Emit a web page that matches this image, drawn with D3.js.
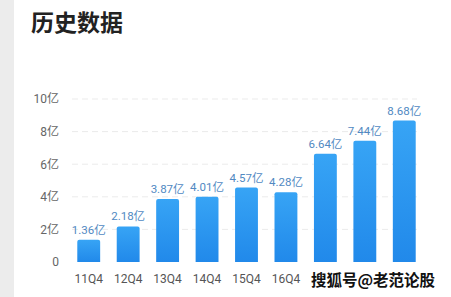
<!DOCTYPE html>
<html>
<head>
<meta charset="utf-8">
<script src="https://cdn.jsdelivr.net/npm/d3@7"></script>
<style>
  html, body { margin: 0; padding: 0; background: #fff; }
  svg { display: block; font-family: "Noto Sans CJK SC", "Noto Sans", sans-serif; }
</style>
</head>
<body>
<div id="chart"></div>
<script>
// data (unit: 亿)
var quarters = ["11Q4", "12Q4", "13Q4", "14Q4", "15Q4", "16Q4", "17Q4", "18Q4", "19Q4"];
var values = [1.36, 2.18, 3.87, 4.01, 4.57, 4.28, 6.64, 7.44, 8.68];
var shownQuarters = ["11Q4", "12Q4", "13Q4", "14Q4", "15Q4", "16Q4"];
var yTicks = [0, 2, 4, 6, 8, 10];

var W = 451, H = 297;
var margin = {top: 99, right: 27, bottom: 35, left: 69};
var width = W - margin.left - margin.right,
    height = H - margin.top - margin.bottom;

var svg = d3.select("#chart").append("svg")
    .attr("width", W)
    .attr("height", H);

// grey strip on the left
svg.append("rect").attr("x", 0).attr("y", 0).attr("width", 14).attr("height", H).attr("fill", "#ececec");

// title
svg.append("text")
    .attr("x", 31).attr("y", 31)
    .attr("font-size", 23).attr("font-weight", "bold").attr("fill", "#222")
    .text("历史数据");

var defs = svg.append("defs");
var grad = defs.append("linearGradient").attr("id", "barGrad")
    .attr("x1", 0).attr("y1", 0).attr("x2", 0).attr("y2", 1);
grad.append("stop").attr("offset", "0%").attr("stop-color", "#37a4f5");
grad.append("stop").attr("offset", "100%").attr("stop-color", "#2189ea");

var g = svg.append("g").attr("transform", "translate(" + margin.left + "," + margin.top + ")");

var x = d3.scaleBand().domain(quarters).range([0, width]).paddingInner(0.42).paddingOuter(0.21);
var y = d3.scaleLinear().domain([0, 10]).range([height, 0]);

// grid lines
g.append("g").selectAll("line")
  .data(yTicks.filter(function(d) { return d > 0; }))
  .join("line")
    .attr("x1", 3).attr("x2", width - 7)
    .attr("y1", function(d) { return y(d); })
    .attr("y2", function(d) { return y(d); })
    .attr("stroke", "#ebebeb")
    .attr("stroke-dasharray", "6,4");

// y axis
var yAxis = g.append("g")
    .call(d3.axisLeft(y).tickValues(yTicks).tickSize(0).tickPadding(10)
      .tickFormat(function(d) { return d === 0 ? "0" : d + "亿"; }));
yAxis.select(".domain").remove();
yAxis.selectAll("text").attr("font-size", 12).attr("fill", "#666")
    .attr("font-family", "Roboto, 'Noto Sans CJK SC', sans-serif");

// x axis
var xAxis = g.append("g")
    .attr("transform", "translate(0," + height + ")")
    .call(d3.axisBottom(x).tickSize(0).tickPadding(12)
      .tickFormat(function(d) { return shownQuarters.indexOf(d) >= 0 ? d : ""; }));
xAxis.select(".domain").remove();
xAxis.selectAll("text").attr("font-size", 12).attr("fill", "#555")
    .attr("font-family", "Roboto, sans-serif");

// bars with rounded top corners
var r = 2;
g.append("g").selectAll("path")
  .data(values)
  .join("path")
    .attr("fill", "url(#barGrad)")
    .attr("d", function(d, i) {
      var x0 = x(quarters[i]), w = x.bandwidth(), y0 = y(d), yb = y(0);
      return "M" + x0 + "," + yb +
        "V" + (y0 + r) +
        "Q" + x0 + "," + y0 + " " + (x0 + r) + "," + y0 +
        "H" + (x0 + w - r) +
        "Q" + (x0 + w) + "," + y0 + " " + (x0 + w) + "," + (y0 + r) +
        "V" + yb + "Z";
    });

// value labels
g.append("g").selectAll("text")
  .data(values)
  .join("text")
    .attr("x", function(d, i) { return x(quarters[i]) + x.bandwidth() / 2; })
    .attr("y", function(d) { return y(d) - 6; })
    .attr("text-anchor", "middle")
    .attr("font-size", 11.5)
    .attr("fill", "#5189c2")
    .attr("font-family", "Roboto, 'Noto Sans CJK SC', sans-serif")
    .text(function(d) { return d.toFixed(2) + "亿"; });

// watermark
svg.append("text")
    .attr("x", 311).attr("y", 286)
    .attr("font-size", 15.5).attr("font-weight", "bold")
    .attr("fill", "#111").attr("stroke", "#fff").attr("stroke-width", 2.5)
    .attr("paint-order", "stroke")
    .text("搜狐号@老范论股");
</script>
</body>
</html>
